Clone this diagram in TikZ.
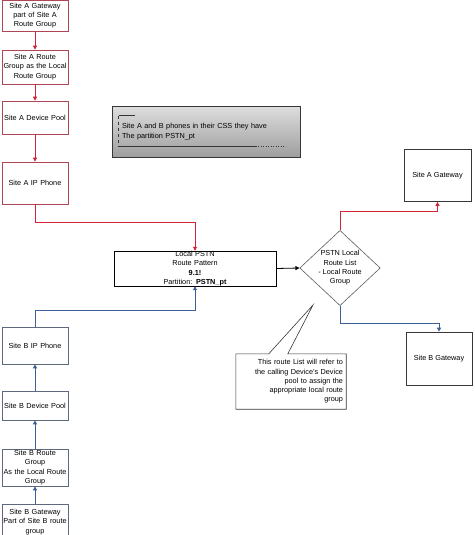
\documentclass[tikz,border=0pt]{standalone}
\usepackage{fontspec}
\setmainfont{Liberation Sans}
\usetikzlibrary{shapes.geometric,arrows.meta}

\definecolor{linered}{RGB}{210,35,55}
\definecolor{boxred}{RGB}{175,70,85}
\definecolor{lineblue}{RGB}{60,95,150}
\definecolor{boxblue}{RGB}{95,105,125}
\definecolor{boxdark}{RGB}{55,55,55}
\definecolor{notetop}{RGB}{222,222,222}
\definecolor{notebot}{RGB}{158,158,158}

\tikzset{
  every node/.style={font=\fontsize{7.3}{9.3}\selectfont},
  sitebox/.style={draw, fill=white, line width=0.7pt, minimum width=66pt,
    text width=64pt, inner xsep=1pt, inner ysep=1pt, align=center},
  redbox/.style={sitebox, draw=boxred},
  bluebox/.style={sitebox, draw=boxblue},
  gwbox/.style={draw=boxdark, fill=white, line width=0.7pt, minimum width=67pt,
    minimum height=52pt, align=center},
  redarrow/.style={draw=linered, line width=0.8pt, -{Triangle[length=4pt,width=4pt]}},
  bluearrow/.style={draw=lineblue, line width=0.8pt, -{Triangle[length=4pt,width=4pt]}},
  blackarrow/.style={draw=black, line width=0.8pt, -{Triangle[length=4pt,width=4pt]}}
}

\begin{document}
\begin{tikzpicture}[x=1pt,y=-1pt]
  \useasboundingbox (0,0) rectangle (474,535);

  % 1. Site A column
  \node[redbox, minimum height=31pt] (siteAgw) at (35,15.5) {Site A Gateway\\part of Site A\\Route Group};
  \node[redbox, minimum height=34pt] (siteArg) at (35,67) {Site A Route\\Group as the Local\\Route Group};
  \node[redbox, minimum height=33pt] (siteAdp) at (35,117.5) {Site A Device Pool};
  \node[redbox, minimum height=42pt] (siteAphone) at (35,183) {Site A IP Phone};

  % 2. Site B column
  \node[bluebox, minimum height=37pt] (siteBphone) at (35,345.5) {Site B IP Phone};
  \node[bluebox, minimum height=29pt] (siteBdp) at (35,405.5) {Site B Device Pool};
  \node[bluebox, minimum height=37pt] (siteBrg) at (35,467.5) {Site B Route\\Group\\As the Local Route\\Group};
  \node[bluebox, minimum height=36pt] (siteBgw) at (35,522) {Site B Gateway\\Part of Site B route\\group};

  % 3. Route pattern, route list and the gateways
  \node[draw=black, fill=white, line width=0.7pt, minimum width=162pt, text width=160pt,
    inner xsep=1pt, inner ysep=0pt, align=center] (routepat) at (195,268.5)
    {Local PSTN\\Route Pattern\\\textbf{9.1!}\\Partition: \textbf{PSTN\_pt}};
  \node[diamond, draw=boxdark!80, fill=white, line width=0.6pt, aspect=1.07, inner sep=0pt,
    minimum width=80pt, minimum height=75pt, align=center] (pstnrl) at (340,268)
    {PSTN Local\\Route List\\- Local Route\\Group};
  \node[gwbox] (siteAgwr) at (437.5,175.5) {Site A Gateway};
  \node[gwbox, minimum width=66pt, minimum height=53pt] (siteBgwr) at (439,358.5) {Site B Gateway};

  % 4. Notes
  \node[draw=boxdark, line width=0.7pt, top color=notetop, bottom color=notebot,
    minimum width=188pt, minimum height=51pt, text width=168pt, inner xsep=10pt,
    align=left] (cssnote) at (206,131.5)
    {Site A and B phones in their CSS they have\\The partition PSTN\_pt};
  \draw[boxdark, line width=0.5pt] ([xshift=7pt,yshift=-10pt]cssnote.north west) -- ++(16,0);
  \draw[boxdark, line width=0.5pt, dashed] ([xshift=7pt,yshift=-10pt]cssnote.north west)
    -- ([xshift=7pt,yshift=11pt]cssnote.south west);
  \draw[boxdark, line width=0.5pt] ([xshift=7pt,yshift=11pt]cssnote.south west) -- ++(137,0)
    coordinate (cssend);
  \draw[boxdark, line width=0.5pt, dotted] (cssend) -- ++(30,0);

  \coordinate (notetip) at (313,305);
  \node[minimum width=110pt, minimum height=55pt, text width=104pt, inner xsep=3pt,
    align=right] (routenote) at (291,381.5)
    {This route List will refer to\\the calling Device's Device\\pool to assign the\\appropriate local route\\group};
  \draw[boxdark, line width=0.6pt] (routenote.north west) -- ([xshift=33pt]routenote.north west)
    -- (notetip) -- ([xshift=52pt]routenote.north west) -- (routenote.north east)
    -- (routenote.south east) -- (routenote.south west) -- cycle;

  % 5. Connectors
  \draw[redarrow] (siteAgw) -- (siteArg);
  \draw[redarrow] (siteArg) -- (siteAdp);
  \draw[redarrow] (siteAdp) -- (siteAphone);
  \draw[redarrow] (siteAphone.south) -- ++(0,18) -| (routepat.north);
  \draw[bluearrow] (siteBgw) -- (siteBrg);
  \draw[bluearrow] (siteBrg) -- (siteBdp);
  \draw[bluearrow] (siteBdp) -- (siteBphone);
  \draw[bluearrow] (siteBphone.north) -- ++(0,-16) -| (routepat.south);
  \draw[blackarrow] (routepat.east) -- (pstnrl.west);
  \draw[redarrow] (pstnrl.north) -- ++(0,-19) -| (siteAgwr.south);
  \draw[bluearrow] (pstnrl.south) -- ++(0,17) -| (siteBgwr.north);
\end{tikzpicture}
\end{document}
